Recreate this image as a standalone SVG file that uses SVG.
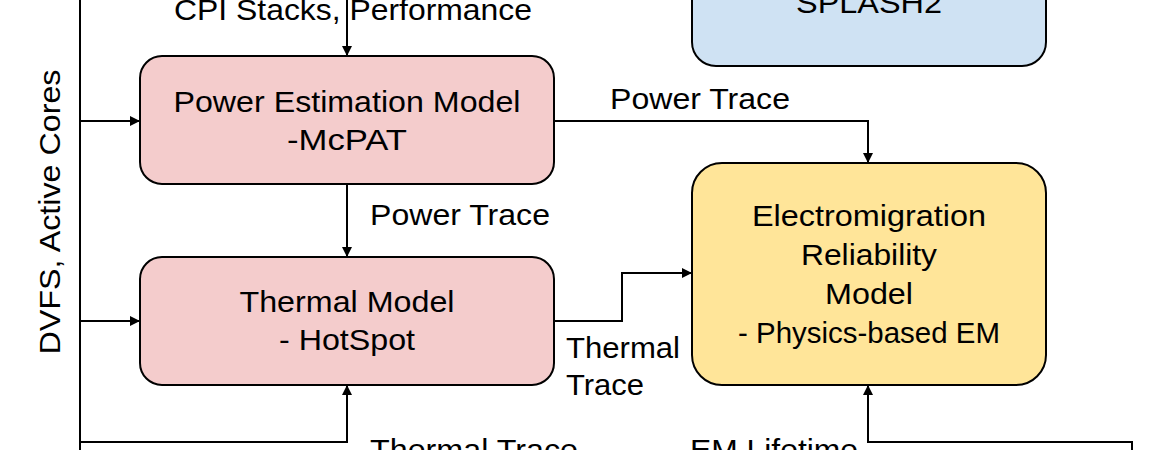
<svg xmlns="http://www.w3.org/2000/svg" width="1170" height="450" viewBox="0 0 1170 450">
<defs>
<marker id="a" markerWidth="10" markerHeight="10" refX="9" refY="5" orient="auto" markerUnits="userSpaceOnUse"><path d="M0,0 L10,5 L0,10 Z" fill="#000"/></marker>
<style>
text{font-family:"Liberation Sans",Arial,sans-serif;font-size:29px;fill:#000}
.c{text-anchor:middle}
.n{stroke:#000;stroke-width:2}
.l{fill:none;stroke:#000;stroke-width:2}
</style>
</defs>
<rect width="1170" height="450" fill="#fff"/>
<g id="splash"><rect class="n" x="692" y="-40" width="354" height="106" rx="24" fill="#cfe2f3"/><text class="c" x="869" y="13" textLength="146" lengthAdjust="spacingAndGlyphs">SPLASH2</text></g>
<g id="power"><rect class="n" x="140" y="56" width="414" height="128" rx="22" fill="#f4cccc"/><text class="c" x="347" y="112" textLength="347" lengthAdjust="spacingAndGlyphs">Power Estimation Model</text><text class="c" x="347" y="150" textLength="120" lengthAdjust="spacingAndGlyphs">-McPAT</text></g>
<g id="thermal"><rect class="n" x="140" y="257" width="414" height="128" rx="22" fill="#f4cccc"/><text class="c" x="347" y="312" textLength="215" lengthAdjust="spacingAndGlyphs">Thermal Model</text><text class="c" x="347" y="350" textLength="136" lengthAdjust="spacingAndGlyphs">- HotSpot</text></g>
<g id="em"><rect class="n" x="692" y="163" width="354" height="222" rx="30" fill="#ffe599"/><text class="c" x="869" y="226" textLength="234" lengthAdjust="spacingAndGlyphs">Electromigration</text><text class="c" x="869" y="265" textLength="136" lengthAdjust="spacingAndGlyphs">Reliability</text><text class="c" x="869" y="304" textLength="88" lengthAdjust="spacingAndGlyphs">Model</text><text class="c" x="869" y="343" textLength="262" lengthAdjust="spacingAndGlyphs">- Physics-based EM</text></g>
<g id="connectors">
<path class="l" d="M347,0 V55" marker-end="url(#a)"/>
<path class="l" d="M80,0 V450"/>
<path class="l" d="M80,121 H139" marker-end="url(#a)"/>
<path class="l" d="M80,321 H139" marker-end="url(#a)"/>
<path class="l" d="M347,184 V256" marker-end="url(#a)"/>
<path class="l" d="M554,121 H868 V162" marker-end="url(#a)"/>
<path class="l" d="M554,321 H622 V273 H691" marker-end="url(#a)"/>
<path class="l" d="M80,442 H347 V386" marker-end="url(#a)"/>
<path class="l" d="M1132,450 V442 H868 V386" marker-end="url(#a)"/>
</g>
<g id="labels">
<text x="174" y="20" textLength="358" lengthAdjust="spacingAndGlyphs">CPI Stacks, Performance</text>
<text x="610" y="109" textLength="180" lengthAdjust="spacingAndGlyphs">Power Trace</text>
<text x="370" y="225" textLength="180" lengthAdjust="spacingAndGlyphs">Power Trace</text>
<text x="566" y="358" textLength="114" lengthAdjust="spacingAndGlyphs">Thermal</text>
<text x="566" y="395" textLength="78" lengthAdjust="spacingAndGlyphs">Trace</text>
<text x="370" y="460" textLength="208" lengthAdjust="spacingAndGlyphs">Thermal Trace</text>
<text x="690" y="460" textLength="168" lengthAdjust="spacingAndGlyphs">EM Lifetime</text>
<text class="c" transform="translate(60,212) rotate(-90)" textLength="285" lengthAdjust="spacingAndGlyphs">DVFS, Active Cores</text>
</g>
</svg>
